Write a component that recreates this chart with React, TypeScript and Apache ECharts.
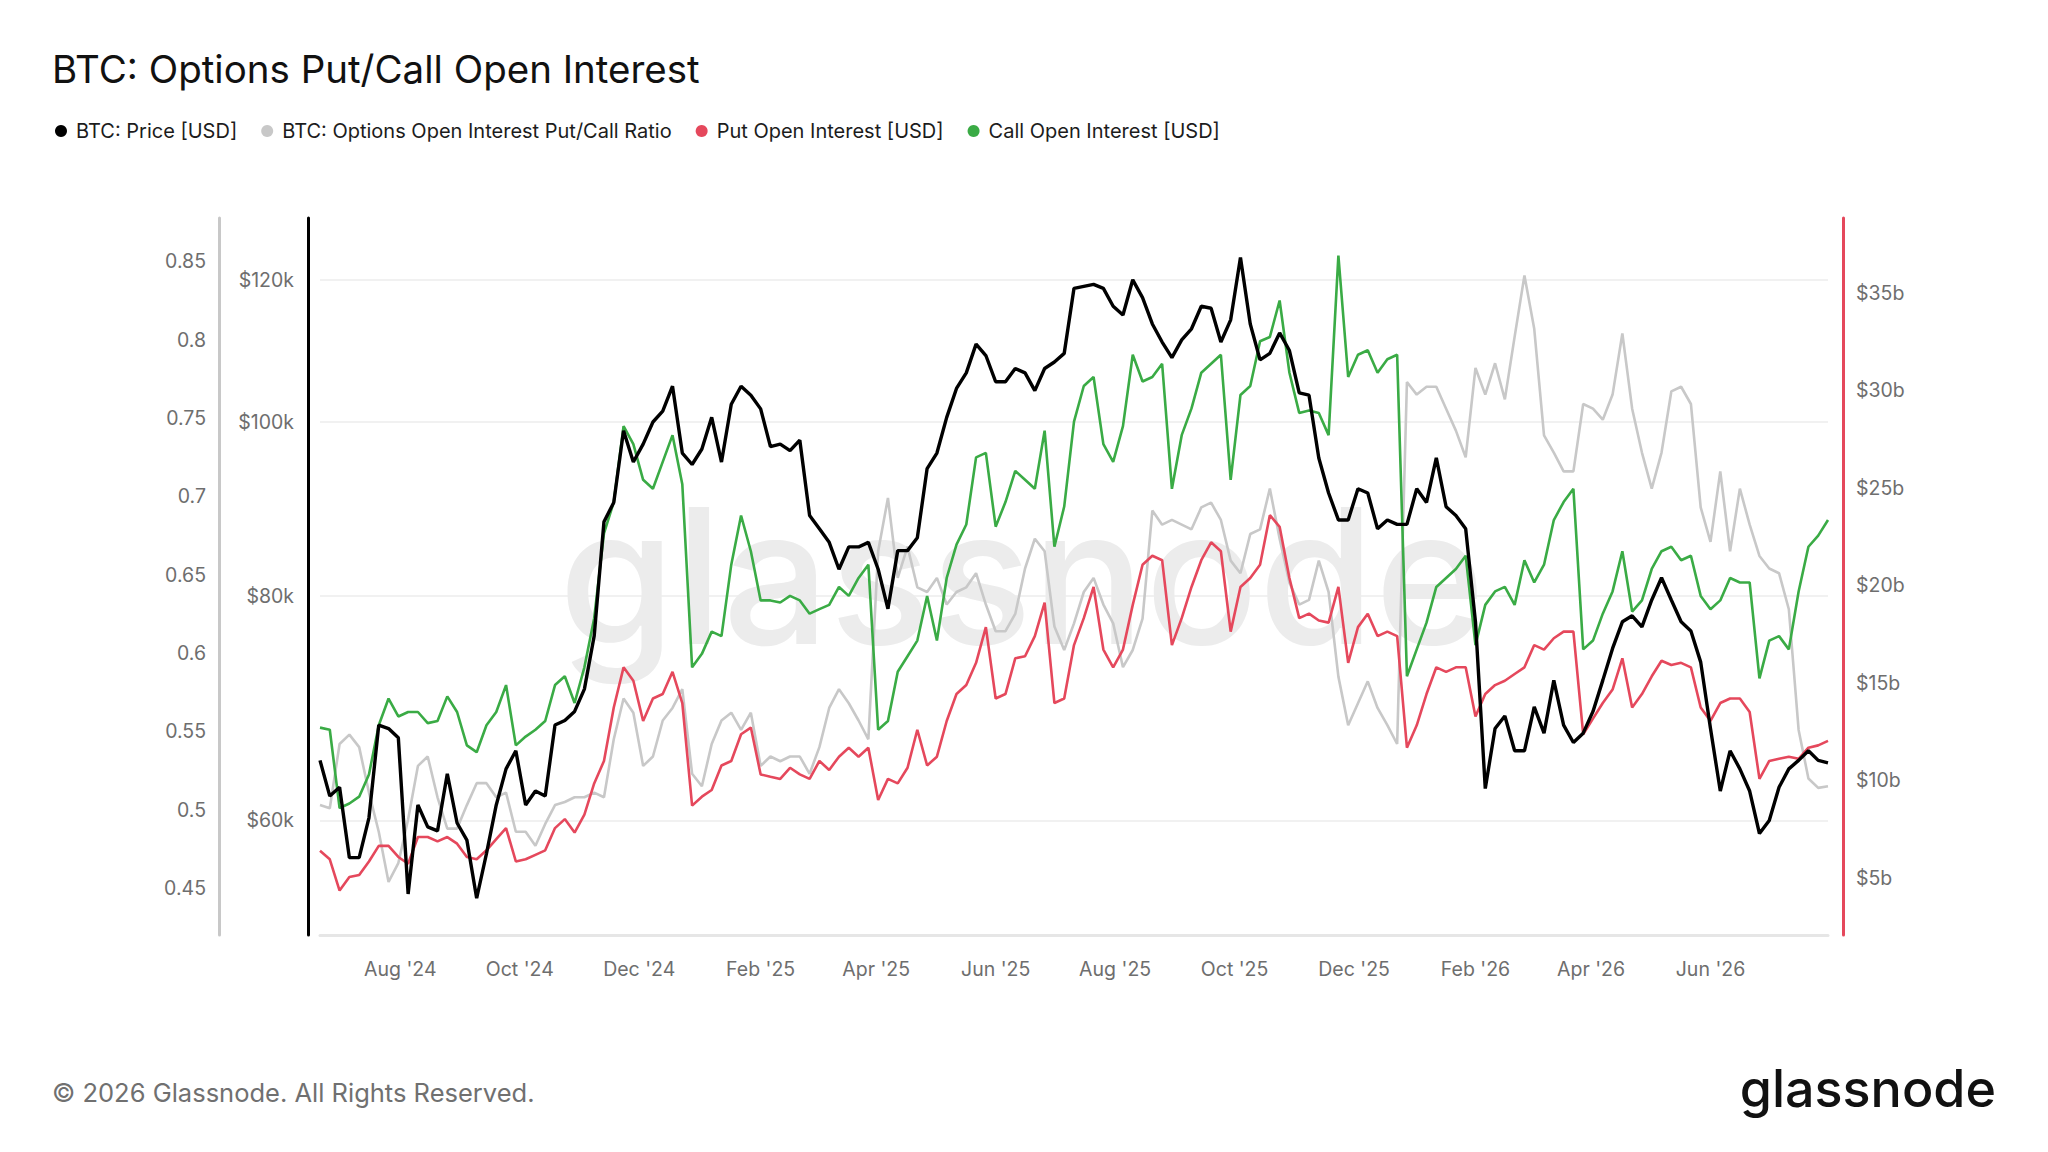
import React, { useEffect, useRef } from "react";
import * as echarts from "echarts";

// Sampling of the series (every STEP_DAYS days from START_DATE)
const START_DATE = "2024-06-21";
const STEP_DAYS = 5;

// BTC price, thousands of USD
const priceK = [
  64.8, 61.9, 62.6, 57.2, 57.2, 60.2, 67.8, 67.5, 66.7, 54.6,
  61.2, 59.5, 59.2, 63.7, 59.8, 58.5, 54.3, 57.5, 61.2, 64.1,
  65.6, 61.2, 62.3, 61.9, 67.8, 68.2, 69.0, 71.0, 76.0, 88.0,
  90.2, 98.9, 95.0,
  97.2, 100, 101.4, 104.7, 96.1, 94.7, 96.6, 100.6, 95.0, 102.3,
  104.7, 103.5, 101.7, 96.9, 97.2, 96.4, 97.7, 88.7, 87.2, 85.7,
  82.8, 85.2, 85.2, 85.7, 82.8, 78.7, 84.8, 84.8, 86.2, 94.2, 96.1,
  100.6, 104.4, 106.5, 110.5, 108.9, 105.3, 105.3, 107.1, 106.5, 104.1,
  107.1, 108.0, 109.2, 118.7, 119.0, 119.3, 118.7, 116.0, 114.7, 120.0,
  117.3, 113.4, 110.8, 108.6, 111.1, 112.7, 116.0, 115.7, 110.8, 114.0, 123.5,
  113.4, 108.3, 109.2, 112.1, 109.6, 103.8, 103.5, 95.5, 91.3, 88.2,
  88.2, 91.8, 91.3, 87.2, 88.2, 87.7, 87.7, 91.8, 90.2, 95.5,
  89.7, 88.7, 87.2, 77.4, 62.5, 67.5, 68.6, 65.6, 65.6, 69.4, 67.1, 71.8,
  67.8, 66.3, 67.1, 69.0, 71.8, 74.8, 77.4, 78.0, 76.9, 79.6,
  81.9, 79.6, 77.4, 76.5, 73.5, 67.5, 62.3, 65.6, 64.1, 62.3,
  59.0, 60.0, 62.6, 64.1, 64.8, 65.6, 64.8, 64.6,
];

// Options open interest put/call ratio
const putCallRatio = [
  0.503, 0.501, 0.542, 0.548, 0.540, 0.511, 0.486, 0.454, 0.466, 0.494,
  0.528, 0.534, 0.508, 0.488, 0.488, 0.503, 0.517, 0.517, 0.508, 0.511,
  0.486, 0.486, 0.477, 0.491, 0.503, 0.505, 0.508, 0.508, 0.511, 0.508,
  0.545, 0.571, 0.562,
  0.528, 0.534, 0.557, 0.565, 0.577, 0.523, 0.515, 0.542, 0.557, 0.562,
  0.551, 0.562, 0.528, 0.534, 0.531, 0.534, 0.534, 0.523, 0.540, 0.565,
  0.577, 0.568, 0.557, 0.545, 0.665, 0.699, 0.648, 0.668, 0.642, 0.639, 0.648,
  0.631, 0.639, 0.642, 0.651, 0.631, 0.614, 0.614, 0.625, 0.654, 0.673,
  0.665, 0.617, 0.602, 0.619, 0.639, 0.648, 0.631, 0.619, 0.591, 0.602,
  0.622, 0.691, 0.682, 0.685, 0.682, 0.679, 0.693, 0.696, 0.685, 0.659, 0.651,
  0.676, 0.679, 0.705, 0.673, 0.645, 0.631, 0.634, 0.659, 0.639, 0.585,
  0.554, 0.568, 0.582, 0.565, 0.554, 0.542, 0.773, 0.765, 0.770, 0.770,
  0.756, 0.742, 0.725, 0.782, 0.765, 0.785, 0.762, 0.802, 0.841, 0.807, 0.739, 0.728,
  0.716, 0.716, 0.759, 0.756, 0.749, 0.765, 0.804, 0.756, 0.728, 0.705,
  0.728, 0.767, 0.770, 0.759, 0.693, 0.671, 0.716, 0.665, 0.705, 0.682,
  0.662, 0.654, 0.651, 0.628, 0.551, 0.520, 0.514, 0.515,
];

// Put open interest, billions of USD
const putOI = [
  6.40, 5.96, 4.36, 5.05, 5.16, 5.85, 6.65, 6.65, 6.08, 5.73,
  7.10, 7.10, 6.88, 7.10, 6.76, 6.08, 5.96, 6.42, 6.99, 7.56,
  5.85, 5.96, 6.19, 6.42, 7.56, 8.02, 7.33, 8.25, 9.85, 11.0,
  13.74, 15.80, 15.11,
  13.05, 14.20, 14.43, 15.57, 13.97, 8.71, 9.17, 9.51, 10.77, 11.0,
  12.37, 12.71, 10.31, 10.19, 10.08, 10.65, 10.31, 10.08, 11.0, 10.54,
  11.22, 11.68, 11.22, 11.68, 9.0, 10.08, 9.85, 10.65, 12.60, 10.77, 11.22,
  13.05, 14.43, 14.89, 16.03, 17.86, 14.20, 14.43, 16.26, 16.37, 17.40,
  19.12, 13.97, 14.20, 16.94, 18.32, 19.92, 16.71, 15.80, 16.71, 19.0,
  21.06, 21.52, 21.29, 16.94, 18.32, 19.92, 21.29, 22.21, 21.75, 17.63, 19.92,
  20.38, 21.06, 23.6, 23.0, 20.38, 18.32, 18.55, 18.20, 18.09, 19.92,
  16.03, 17.86, 18.55, 17.40, 17.63, 17.40, 11.68, 12.83, 14.43, 15.80,
  15.57, 15.80, 15.80, 13.28, 14.43, 14.89, 15.11, 15.46, 15.80, 16.94, 16.71, 17.29,
  17.63, 17.63, 12.37, 13.17, 13.97, 14.66, 16.26, 13.74, 14.43, 15.34,
  16.14, 15.92, 16.03, 15.80, 13.74, 13.05, 13.97, 14.20, 14.20, 13.51,
  10.08, 11.0, 11.11, 11.22, 11.11, 11.68, 11.80, 12.03,
];

// Call open interest, billions of USD
const callOI = [
  12.71, 12.6, 8.59, 8.82, 9.17, 10.31, 12.83, 14.2, 13.28, 13.51,
  13.51, 12.94, 13.05, 14.31, 13.51, 11.8, 11.45, 12.83, 13.51, 14.89,
  11.8, 12.25, 12.6, 13.05, 14.89, 15.34, 13.97, 15.8, 18.32, 22.67,
  24.27, 28.16, 27.24,
  25.41, 24.95, 26.33, 27.70, 25.18, 15.80, 16.49, 17.63, 17.40, 21.06,
  23.58, 21.75, 19.23, 19.23, 19.12, 19.46, 19.23, 18.55, 18.78, 19.0,
  19.92, 19.46, 20.38, 21.06, 12.60, 13.05, 15.57, 16.37, 17.17, 19.46, 17.17,
  20.38, 22.09, 23.12, 26.56, 26.79, 23.01, 24.27, 25.87, 25.41, 24.95,
  27.93, 21.98, 24.04, 28.39, 30.22, 30.68, 27.24, 26.33, 28.16, 31.82,
  30.45, 30.68, 31.36, 24.95, 27.70, 29.07, 30.90, 31.36, 31.82, 25.41, 29.76,
  30.22, 32.51, 32.73, 34.60, 30.90, 28.84, 28.96, 28.84, 27.70, 36.90,
  30.68, 31.82, 32.05, 30.90, 31.59, 31.82, 15.34, 16.72, 18.09, 19.92,
  20.38, 20.84, 21.52, 16.94, 19.0, 19.69, 19.92, 19.0, 21.29, 20.15, 21.06, 23.35,
  24.27, 24.95, 16.72, 17.17, 18.55, 19.69, 21.75, 18.66, 19.23, 20.84,
  21.75, 21.98, 21.29, 21.52, 19.46, 18.78, 19.23, 20.38, 20.15, 20.15,
  15.23, 17.17, 17.40, 16.72, 19.69, 21.98, 22.55, 23.35,
];

// Axis ticks
const ratioTicks = [0.45, 0.5, 0.55, 0.6, 0.65, 0.7, 0.75, 0.8, 0.85];
const priceTicksK = [60, 80, 100, 120];
const oiTicks = [5, 10, 15, 20, 25, 30, 35];
const monthTicks = [
  "2024-08-01", "2024-10-01", "2024-12-01", "2025-02-01", "2025-04-01", "2025-06-01",
  "2025-08-01", "2025-10-01", "2025-12-01", "2026-02-01", "2026-04-01", "2026-06-01",
];
const MONTHS = ["Jan", "Feb", "Mar", "Apr", "May", "Jun", "Jul", "Aug", "Sep", "Oct", "Nov", "Dec"];

const FONT = "Inter, 'Noto Sans', sans-serif";
const LABEL_COLOR = "#6e6e6e";
const AXIS_FONT = 19.5;

function buildDates(n: number): number[] {
  const t0 = Date.parse(START_DATE + "T00:00:00Z");
  const out: number[] = [];
  for (let i = 0; i < n; i++) out.push(t0 + i * STEP_DAYS * 86400000);
  return out;
}

export default function App() {
  const ref = useRef<HTMLDivElement>(null);

  useEffect(() => {
    document.body.style.margin = "0";
    if (!ref.current) return;
    const chart = echarts.init(ref.current, null, { renderer: "svg" });
    const dates = buildDates(priceK.length);
    const pair = (arr: number[]) => dates.map((t, i) => [t, arr[i]]);
    const monthValues = monthTicks.map((s) => Date.parse(s + "T00:00:00Z"));

    const option: any = {
      animation: false,
      backgroundColor: "#ffffff",
      textStyle: { fontFamily: FONT },
      legend: {
        left: 50,
        top: 114,
        icon: "circle",
        itemWidth: 20,
        itemHeight: 12,
        itemGap: 24,
        selectedMode: false,
        textStyle: { fontFamily: FONT, fontSize: 20, color: "#1c1c1c", lineHeight: 24 },
        data: [
          "BTC: Price [USD]",
          "BTC: Options Open Interest Put/Call Ratio",
          "Put Open Interest [USD]",
          "Call Open Interest [USD]",
        ],
      },
      grid: { left: 320, right: 220, top: 218, bottom: 217, containLabel: false },
      xAxis: {
        type: "value",
        min: dates[0],
        max: dates[dates.length - 1],
        axisLine: { show: true, onZero: false, lineStyle: { color: "#e6e6e6", width: 3 } },
        axisTick: { show: false },
        splitLine: { show: false },
        axisLabel: {
          customValues: monthValues,
          hideOverlap: false,
          margin: 24,
          color: LABEL_COLOR,
          fontSize: AXIS_FONT,
          fontFamily: FONT,
          formatter: (v: number) => {
            const d = new Date(v);
            return MONTHS[d.getUTCMonth()] + " '" + String(d.getUTCFullYear()).slice(2);
          },
        },
      },
      yAxis: [
        {
          type: "value",
          position: "left",
          offset: 101,
          min: 0.4201,
          max: 0.8777,
          axisLine: { show: true, onZero: false, lineStyle: { color: "#c8c8c8", width: 3 } },
          axisTick: { show: false },
          splitLine: { show: false },
          axisLabel: {
            customValues: ratioTicks,
            margin: 13,
            color: LABEL_COLOR,
            fontSize: AXIS_FONT,
            fontFamily: FONT,
            formatter: (v: number) => String(+Number(v).toFixed(2)),
          },
        },
        {
          type: "log",
          logBase: 10,
          position: "left",
          offset: 12,
          min: 51.8,
          max: 129.9,
          axisLine: { show: true, onZero: false, lineStyle: { color: "#000000", width: 3 } },
          axisTick: { show: false },
          splitLine: { show: false },
          axisLabel: { show: false },
        },
        {
          type: "value",
          position: "right",
          offset: 15,
          min: 2.08,
          max: 38.83,
          axisLine: { show: true, onZero: false, lineStyle: { color: "#e5485c", width: 3 } },
          axisTick: { show: false },
          splitLine: { show: false },
          axisLabel: {
            customValues: oiTicks,
            margin: 13,
            color: LABEL_COLOR,
            fontSize: AXIS_FONT,
            fontFamily: FONT,
            formatter: (v: number) => "$" + v + "b",
          },
        },
      ],
      series: [
        {
          name: "BTC: Price [USD]",
          type: "line",
          yAxisIndex: 1,
          data: pair(priceK),
          showSymbol: false,
          z: 5,
          color: "#000000",
          lineStyle: { color: "#000000", width: 3.4 },
          markLine: {
            silent: true,
            symbol: ["none", "none"],
            z: 1,
            lineStyle: { color: "#ececec", width: 1.5, type: "solid" },
            label: {
              show: true,
              position: "start",
              distance: 26,
              color: LABEL_COLOR,
              fontSize: AXIS_FONT,
              fontFamily: FONT,
              formatter: (p: any) => "$" + p.value + "k",
            },
            emphasis: { disabled: true },
            data: priceTicksK.map((v) => ({ yAxis: v })),
          },
        },
        {
          name: "BTC: Options Open Interest Put/Call Ratio",
          type: "line",
          yAxisIndex: 0,
          data: pair(putCallRatio),
          showSymbol: false,
          z: 2,
          color: "#c8c8c8",
          lineStyle: { color: "#c8c8c8", width: 2.6 },
        },
        {
          name: "Put Open Interest [USD]",
          type: "line",
          yAxisIndex: 2,
          data: pair(putOI),
          showSymbol: false,
          z: 3,
          color: "#e5485c",
          lineStyle: { color: "#e5485c", width: 2.6 },
        },
        {
          name: "Call Open Interest [USD]",
          type: "line",
          yAxisIndex: 2,
          data: pair(callOI),
          showSymbol: false,
          z: 4,
          color: "#3aab45",
          lineStyle: { color: "#3aab45", width: 2.6 },
        },
      ],
      graphic: [
        {
          type: "text",
          x: 1022,
          y: 575,
          z: 0,
          silent: true,
          style: {
            text: "glassnode",
            fill: "#ececec",
            fontSize: 188,
            fontWeight: 500,
            fontFamily: FONT,
            align: "center",
            verticalAlign: "middle",
          },
        },
        {
          type: "text",
          x: 52,
          y: 69,
          style: {
            text: "BTC: Options Put/Call Open Interest",
            fill: "#111111",
            fontSize: 38.5,
            fontFamily: FONT,
            align: "left",
            verticalAlign: "middle",
          },
        },
        {
          type: "text",
          x: 52,
          y: 1092,
          style: {
            text: "© 2026 Glassnode. All Rights Reserved.",
            fill: "#707070",
            fontSize: 25.5,
            fontFamily: FONT,
            align: "left",
            verticalAlign: "middle",
          },
        },
        {
          type: "text",
          x: 1996,
          y: 1088,
          style: {
            text: "glassnode",
            fill: "#111111",
            fontSize: 52,
            fontWeight: 500,
            fontFamily: FONT,
            align: "right",
            verticalAlign: "middle",
          },
        },
      ],
    };

    chart.setOption(option);
    return () => chart.dispose();
  }, []);

  return <div ref={ref} style={{ width: 2048, height: 1152 }} />;
}
